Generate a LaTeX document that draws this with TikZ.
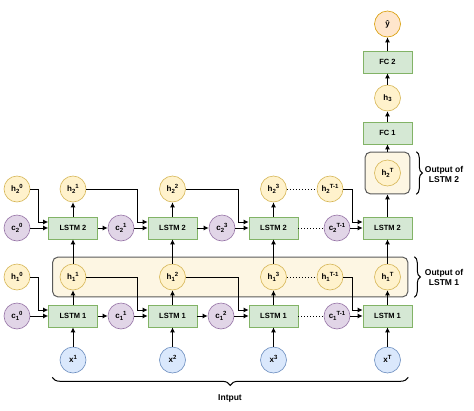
\documentclass[tikz,border=0pt]{standalone}
\usepackage{fontspec}
\setmainfont{Liberation Sans}
\usetikzlibrary{arrows.meta,fit,backgrounds,decorations.pathreplacing}

\definecolor{hfill}{HTML}{FFF2CC}
\definecolor{hline}{HTML}{D6B656}
\definecolor{cfill}{HTML}{E1D5E7}
\definecolor{cline}{HTML}{9673A6}
\definecolor{xfill}{HTML}{DAE8FC}
\definecolor{xline}{HTML}{6C8EBF}
\definecolor{yfill}{HTML}{FFE6CC}
\definecolor{yline}{HTML}{D79B00}
\definecolor{lfill}{HTML}{D5E8D4}
\definecolor{lline}{HTML}{82B366}
\definecolor{ofill}{HTML}{FDF6E3}
\definecolor{oline}{HTML}{5A5A5A}

\newcommand{\smallidx}[1]{{\fontsize{6}{6}\selectfont #1}}
\newcommand{\vlab}[3]{#1\raisebox{-1.6pt}{\smallidx{#2}}\raisebox{2.8pt}{\smallidx{#3}}}

\tikzset{
	state/.style = {circle, draw, line width=0.6pt, minimum size=26pt, inner sep=0pt, font=\bfseries\fontsize{8}{9}\selectfont},
	hstate/.style = {state, fill=hfill, draw=hline},
	cstate/.style = {state, fill=cfill, draw=cline},
	xstate/.style = {state, fill=xfill, draw=xline},
	ystate/.style = {state, fill=yfill, draw=yline},
	cell/.style = {rectangle, draw=lline, fill=lfill, line width=0.6pt, minimum width=49pt, minimum height=22pt, font=\bfseries\fontsize{7.5}{8}\selectfont},
	flow/.style = {-{Latex[length=5pt,width=5pt]}, line width=1pt},
	gap/.style = {dotted, line width=1pt},
	outbox/.style = {rounded corners=5pt, draw=oline, fill=ofill, line width=1pt},
	curly/.style = {decorate, decoration={brace, amplitude=6pt}, line width=1pt},
	note/.style = {align=center, font=\bfseries\fontsize{8.5}{10}\selectfont}
}

\begin{document}
\begin{tikzpicture}[x=1pt, y=-1pt]

	% Canvas

	\useasboundingbox (0,0) rectangle (474,410);

	% Definition

	\def\colA{73}		% first time step
	\def\colB{172.5}	% second time step
	\def\colC{273.5}	% third time step
	\def\colD{387.5}	% last time step
	\def\rowB{228}		% LSTM 2 layer
	\def\rowA{316}		% LSTM 1 layer

	% LSTM cells

	\node [cell] (l21) at (\colA, \rowB) {LSTM 2};
	\node [cell] (l22) at (\colB, \rowB) {LSTM 2};
	\node [cell] (l23) at (\colC, \rowB) {LSTM 2};
	\node [cell] (l24) at (\colD, \rowB) {LSTM 2};
	\node [cell] (l11) at (\colA, \rowA) {LSTM 1};
	\node [cell] (l12) at (\colB, \rowA) {LSTM 1};
	\node [cell] (l13) at (\colC, \rowA) {LSTM 1};
	\node [cell] (l14) at (\colD, \rowA) {LSTM 1};

	% Cell states

	\node [cstate] (c20) at (17, \rowB) {\vlab{c}{2}{0}};
	\node [cstate] (c21) at (121, \rowB) {\vlab{c}{2}{1}};
	\node [cstate] (c22) at (222, \rowB) {\vlab{c}{2}{3}};
	\node [cstate] (c2T) at (337, \rowB) {\vlab{c}{2}{T-1}};
	\node [cstate] (c10) at (17, \rowA) {\vlab{c}{1}{0}};
	\node [cstate] (c11) at (121, \rowA) {\vlab{c}{1}{1}};
	\node [cstate] (c12) at (221, \rowA) {\vlab{c}{1}{2}};
	\node [cstate] (c1T) at (337, \rowA) {\vlab{c}{1}{T-1}};

	% Hidden states

	\node [hstate] (h20) at (17, 189) {\vlab{h}{2}{0}};
	\node [hstate] (h21) at (\colA, 189) {\vlab{h}{2}{1}};
	\node [hstate] (h22) at (\colB, 189) {\vlab{h}{2}{2}};
	\node [hstate] (h23) at (\colC, 189) {\vlab{h}{2}{3}};
	\node [hstate] (h2Tm) at (330, 189) {\vlab{h}{2}{T-1}};
	\node [hstate] (h2T) at (\colD, 173) {\vlab{h}{2}{T}};
	\node [hstate] (h10) at (17, 277) {\vlab{h}{1}{0}};
	\node [hstate] (h11) at (\colA, 277) {\vlab{h}{1}{1}};
	\node [hstate] (h12) at (\colB, 277) {\vlab{h}{1}{2}};
	\node [hstate] (h13) at (\colC, 277) {\vlab{h}{1}{3}};
	\node [hstate] (h1Tm) at (330, 277) {\vlab{h}{1}{T-1}};
	\node [hstate] (h1T) at (\colD, 277) {\vlab{h}{1}{T}};

	% Inputs

	\node [xstate] (x1) at (\colA, 360) {\vlab{x}{}{1}};
	\node [xstate] (x2) at (\colB, 360) {\vlab{x}{}{2}};
	\node [xstate] (x3) at (\colC, 360) {\vlab{x}{}{3}};
	\node [xstate] (x4) at (\colD, 360) {\vlab{x}{}{T}};

	% Head

	\node [cell] (fc1) at (\colD, 133) {FC 1};
	\node [hstate] (h3) at (\colD, 98) {\vlab{h}{3}{}};
	\node [cell] (fc2) at (\colD, 62) {FC 2};
	\node [ystate] (yhat) at (\colD, 24) {\^{y}};

	% Output boxes

	\begin{scope}[on background layer]
		\node [outbox, fit=(h11) (h1T), inner xsep=7pt, inner ysep=6.5pt] (ob1) {};
		\node [outbox, fit=(h2T), inner xsep=9pt, inner ysep=7.5pt] (ob2) {};
	\end{scope}

	% Cell state flow

	\draw [flow] (c20) -- (l21);
	\draw [flow] (l21) -- (c21);
	\draw [flow] (c21) -- (l22);
	\draw [flow] (l22) -- (c22);
	\draw [flow] (c22) -- (l23);
	\draw [gap] (l23) -- (c2T);
	\draw [flow] (c2T) -- (l24);
	\draw [flow] (c10) -- (l11);
	\draw [flow] (l11) -- (c11);
	\draw [flow] (c11) -- (l12);
	\draw [flow] (l12) -- (c12);
	\draw [flow] (c12) -- (l13);
	\draw [gap] (l13) -- (c1T);
	\draw [flow] (c1T) -- (l14);

	% Hidden state flow

	\draw [flow] (h20.east) -| ([xshift=-10pt, yshift=6pt]l21.west) -- ([yshift=6pt]l21.west);
	\draw [flow] (h21.east) -| ([xshift=-10pt, yshift=6pt]l22.west) -- ([yshift=6pt]l22.west);
	\draw [flow] (h22.east) -| ([xshift=-10pt, yshift=6pt]l23.west) -- ([yshift=6pt]l23.west);
	\draw [flow] (h2Tm.east) -| ([xshift=-10pt, yshift=6pt]l24.west) -- ([yshift=6pt]l24.west);
	\draw [gap] (h23) -- (h2Tm);
	\draw [flow] (h10.east) -| ([xshift=-10pt, yshift=6pt]l11.west) -- ([yshift=6pt]l11.west);
	\draw [flow] (h11.east) -| ([xshift=-10pt, yshift=6pt]l12.west) -- ([yshift=6pt]l12.west);
	\draw [flow] (h12.east) -| ([xshift=-10pt, yshift=6pt]l13.west) -- ([yshift=6pt]l13.west);
	\draw [flow] (h1Tm.east) -| ([xshift=-10pt, yshift=6pt]l14.west) -- ([yshift=6pt]l14.west);
	\draw [gap] (h13) -- (h1Tm);

	% Upward flow

	\draw [flow] (x1) -- (l11);
	\draw [flow] (x2) -- (l12);
	\draw [flow] (x3) -- (l13);
	\draw [flow] (x4) -- (l14);
	\draw [flow] (l11) -- (h11);
	\draw [flow] (l12) -- (h12);
	\draw [flow] (l13) -- (h13);
	\draw [flow] (l14) -- (h1T);
	\draw [flow] (h11) -- (l21);
	\draw [flow] (h12) -- (l22);
	\draw [flow] (h13) -- (l23);
	\draw [flow] (h1T) -- (l24);
	\draw [flow] (l21) -- (h21);
	\draw [flow] (l22) -- (h22);
	\draw [flow] (l23) -- (h23);
	\draw [flow] (l24) -- (ob2);
	\draw [flow] (ob2) -- (fc1);
	\draw [flow] (fc1) -- (h3);
	\draw [flow] (h3) -- (fc2);
	\draw [flow] (fc2) -- (yhat);

	% Braces w/ labels

	\draw [curly] ([xshift=6pt]ob2.north east) -- ([xshift=6pt]ob2.south east);
	\draw [curly] ([xshift=6pt]ob1.north east) -- ([xshift=6pt]ob1.south east);
	\draw [curly, decoration={mirror, amplitude=8pt}] ([yshift=-80pt]ob1.south west) -- ([yshift=-80pt]ob1.south east);

	\node [note] (lab2) at (444, 174) {Output of\\LSTM 2};
	\node [note] (lab1) at (444, 277) {Output of\\LSTM 1};
	\node [note] (lab0) at (230, 398) {Intput};

\end{tikzpicture}
\end{document}
